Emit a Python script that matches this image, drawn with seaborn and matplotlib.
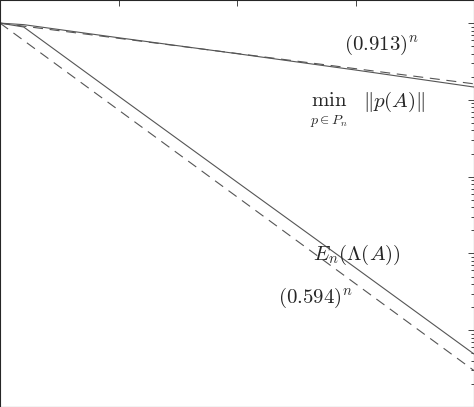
import matplotlib
matplotlib.use("Agg")
import matplotlib.pyplot as plt
import seaborn as sns

sns.set_style("white")
plt.rcParams['mathtext.fontset'] = 'cm'
plt.rcParams['font.family'] = ['DejaVu Serif']

n_solid = [0, 1, 5, 10, 15, 20]
min_norm = [1.0, 0.955, 0.645, 0.40, 0.245, 0.147]
En = [1.0, 0.89, 0.112, 8.5e-3, 6.5e-4, 4.9e-5]
n_dash = [0, 20]
d913 = [1.0, 0.1618]
d594 = [1.0, 2.98e-5]

fig = plt.figure(figsize=(4.74, 4.07), dpi=100)
ax = fig.add_axes([0, 0, 1, 1])
kw = dict(color="#555555", lw=0.8, ax=ax, legend=False)
sns.lineplot(x=n_solid, y=min_norm, **kw)
sns.lineplot(x=n_solid, y=En, **kw)
sns.lineplot(x=n_dash, y=d913, linestyle=(0, (9, 6)), **kw)
sns.lineplot(x=n_dash, y=d594, linestyle=(0, (9, 6)), **kw)
ax.set_yscale("log")
ax.set_xlim(0, 20)
ax.set_ylim(1.0e-5, 2.0)
ax.set_xticks([5, 10, 15])
ax.tick_params(which="both", direction="in", top=True, right=True,
               labelbottom=False, labelleft=False, length=4, width=0.6)
ax.tick_params(which="minor", length=2)
for s in ax.spines.values():
    s.set_linewidth(0.8)
fs = 15
def T(px, py, s, size=fs):
    ax.text(px / 474, 1 - py / 407, s, fontsize=size, ha="center", va="center",
            transform=ax.transAxes)
T(382, 45, r"$(0.913)^n$")
T(329, 101, r"$\mathrm{min}$")
T(329, 121, r"$p\in P_n$", 10)
T(394, 102, r"$\|p(A)\|$")
T(357, 255, r"$E_n(\Lambda(A))$")
T(316, 298, r"$(0.594)^n$")
fig.savefig("out.png", dpi=100)
